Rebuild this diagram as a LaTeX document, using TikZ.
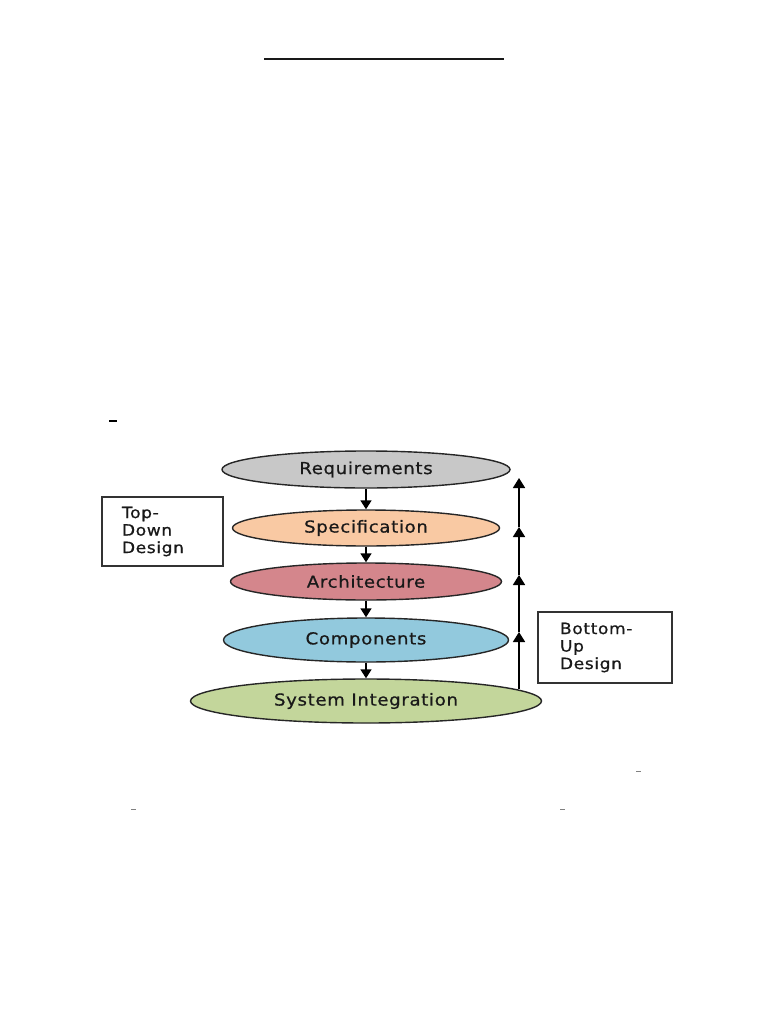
\documentclass[tikz,border=0pt]{standalone}
\usepackage{fontspec}
\setmainfont{DejaVu Sans}[FakeStretch=1.1,LetterSpace=4,FakeBold=0.7]
\usetikzlibrary{arrows.meta}
\usetikzlibrary{shapes.geometric}

\definecolor{reqgray}{HTML}{C8C8C8}
\definecolor{specpeach}{HTML}{F9C9A3}
\definecolor{archrose}{HTML}{D4868C}
\definecolor{compblue}{HTML}{92C9DD}
\definecolor{intgreen}{HTML}{C3D69B}

\tikzset{
  stage/.style={ellipse, draw=black!85, line width=1.4pt, inner sep=0pt, text=black!90,
    font=\fontsize{16.5}{19}\selectfont},
  sidebox/.style={draw=black!80, line width=1.1pt, align=left, inner ysep=0pt,
    font=\fontsize{15.5}{17.5}\selectfont, text=black!90},
  downarrow/.style={-{Triangle[width=11pt,length=9pt]}, line width=1.7pt},
  uparrow/.style={-{Triangle[width=12pt,length=10pt]}, line width=1.7pt},
}

\begin{document}
\begin{tikzpicture}[x=1pt, y=-1pt]
  \useasboundingbox (0,0) rectangle (768,1024);

  % page marks
  \draw[line width=1.5pt, black!90] (264,59) -- (504,59);
  \draw[line width=1.5pt] (109,421) -- (117,421);
  \draw[line width=1pt, gray] (636,771) -- (641,771);
  \draw[line width=1pt, gray] (131,809) -- (136,809);
  \draw[line width=1pt, gray] (560,809) -- (565,809);

  % stages
  \node[stage, fill=reqgray, minimum width=288pt, minimum height=37pt] (req) at (366,469.5) {Requirements};
  \node[stage, fill=specpeach, minimum width=267pt, minimum height=36pt] (spec) at (366,528) {Specification};
  \node[stage, fill=archrose, minimum width=271pt, minimum height=37pt] (arch) at (366,581.5) {Architecture};
  \node[stage, fill=compblue, minimum width=285pt, minimum height=44pt] (comp) at (366,640) {Components};
  \node[stage, fill=intgreen, minimum width=351pt, minimum height=44pt] (sysint) at (366,701) {System Integration};

  \foreach \a/\b in {req/spec, spec/arch, arch/comp, comp/sysint}
    \draw[downarrow] (\a) -- (\b);

  % bottom-up line
  \coordinate (u0) at (519,689);
  \coordinate (u1) at (519,632);
  \coordinate (u2) at (519,575);
  \coordinate (u3) at (519,527);
  \coordinate (u4) at (519,478);
  \foreach \a/\b in {u0/u1, u1/u2, u2/u3, u3/u4}
    \draw[uparrow] (\a) -- (\b);

  % side boxes
  \node[sidebox, minimum width=121pt, minimum height=69pt, text width=81pt, inner xsep=20pt] (topdown) at (162.5,531.5) {Top-\\Down\\Design};
  \node[sidebox, minimum width=134pt, minimum height=71pt, text width=90pt, inner xsep=22pt] (bottomup) at (605,647.5) {Bottom-\\Up\\Design};
\end{tikzpicture}
\end{document}
